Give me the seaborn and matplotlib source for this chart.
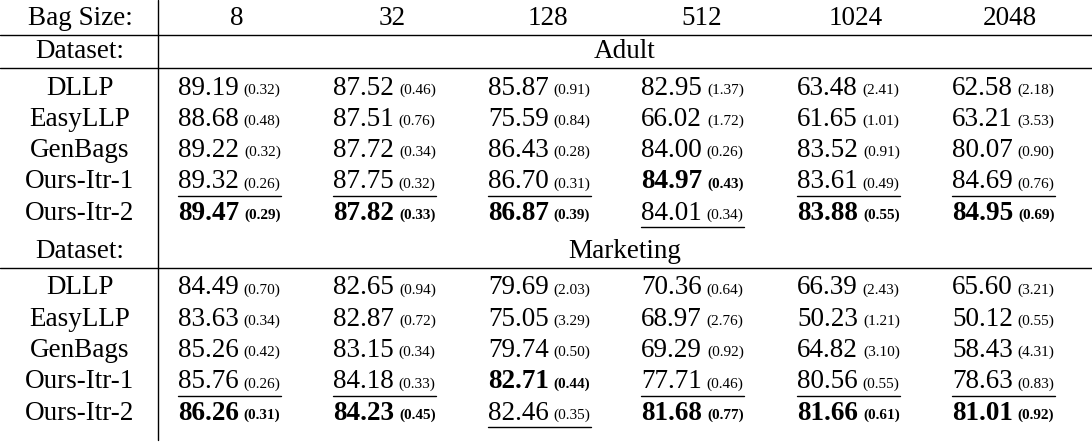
import seaborn as sns
import matplotlib.pyplot as plt

sns.set_theme(style="white")
plt.rcParams['font.family'] = ['Liberation Serif', 'DejaVu Serif']
plt.rcParams['text.color'] = 'black'

bag_sizes = ["8", "32", "128", "512", "1024", "2048"]
methods = ["DLLP", "EasyLLP", "GenBags", "Ours-Itr-1", "Ours-Itr-2"]
datasets = ["Adult", "Marketing"]

adult_mean = [
    [89.19, 87.52, 85.87, 82.95, 63.48, 62.58],
    [88.68, 87.51, 75.59, 66.02, 61.65, 63.21],
    [89.22, 87.72, 86.43, 84.00, 83.52, 80.07],
    [89.32, 87.75, 86.70, 84.97, 83.61, 84.69],
    [89.47, 87.82, 86.87, 84.01, 83.88, 84.95],
]
adult_std = [
    [0.32, 0.46, 0.91, 1.37, 2.41, 2.18],
    [0.48, 0.76, 0.84, 1.72, 1.01, 3.53],
    [0.32, 0.34, 0.28, 0.26, 0.91, 0.90],
    [0.26, 0.32, 0.31, 0.43, 0.49, 0.76],
    [0.29, 0.33, 0.39, 0.34, 0.55, 0.69],
]
marketing_mean = [
    [84.49, 82.65, 79.69, 70.36, 66.39, 65.60],
    [83.63, 82.87, 75.05, 68.97, 50.23, 50.12],
    [85.26, 83.15, 79.74, 69.29, 64.82, 58.43],
    [85.76, 84.18, 82.71, 77.71, 80.56, 78.63],
    [86.26, 84.23, 82.46, 81.68, 81.66, 81.01],
]
marketing_std = [
    [0.70, 0.94, 2.03, 0.64, 2.43, 3.21],
    [0.34, 0.72, 3.29, 2.76, 1.21, 0.55],
    [0.42, 0.34, 0.50, 0.92, 3.10, 4.31],
    [0.26, 0.33, 0.44, 0.46, 0.55, 0.83],
    [0.31, 0.45, 0.35, 0.77, 0.61, 0.92],
]

W, H = 1092, 443
fig = plt.figure(figsize=(W / 100, H / 100), dpi=100)
ax = fig.add_axes([0, 0, 1, 1])
ax.set_xlim(0, W)
ax.set_ylim(H, 0)
ax.axis("off")

col_x = [178, 333, 488, 641, 797, 952]
col_c = [237, 392, 548, 702, 856, 1010]
big, small = 19.5, 11

ax.text(80, 18, "Bag Size:", fontsize=big, ha="center", va="center")
for c, b in zip(col_c, bag_sizes):
    ax.text(c, 18, b, fontsize=big, ha="center", va="center")
ax.plot([0, W], [35, 35], color="black", lw=1)
ax.plot([158, 158], [0, 440], color="black", lw=1)

fig.canvas.draw()
renderer = fig.canvas.get_renderer()
inv = ax.transData.inverted()


def right_edge(t):
    bb = t.get_window_extent(renderer)
    return inv.transform((bb.x1, bb.y0))[0]


blocks = [(51, adult_mean, adult_std), (251, marketing_mean, marketing_std)]
for (y0, means, stds), name in zip(blocks, datasets):
    ax.text(80, y0, "Dataset:", fontsize=big, ha="center", va="center")
    ax.text(col_c[2] + 77, y0, name, fontsize=big, ha="center", va="center")
    ax.plot([0, W], [y0 + 17, y0 + 17], color="black", lw=1)
    for i, m in enumerate(methods):
        y = y0 + 37 + i * 31.3
        ax.text(80, y, m, fontsize=big, ha="center", va="center")
        for j in range(6):
            col = [means[k][j] for k in range(len(methods))]
            order = sorted(col, reverse=True)
            w = "bold" if col[i] == order[0] else "normal"
            t1 = ax.text(col_x[j], y, f"{means[i][j]:.2f}", fontsize=big,
                         ha="left", va="center", fontweight=w)
            x2 = right_edge(t1) + 5
            t2 = ax.text(x2, y + 2, f"({stds[i][j]:.2f})", fontsize=small,
                         ha="left", va="center", fontweight=w)
            if col[i] == order[1]:
                ax.plot([col_x[j], right_edge(t2)], [y + 14, y + 14],
                        color="black", lw=1)

fig.savefig("out.png", dpi=100, facecolor="white")
